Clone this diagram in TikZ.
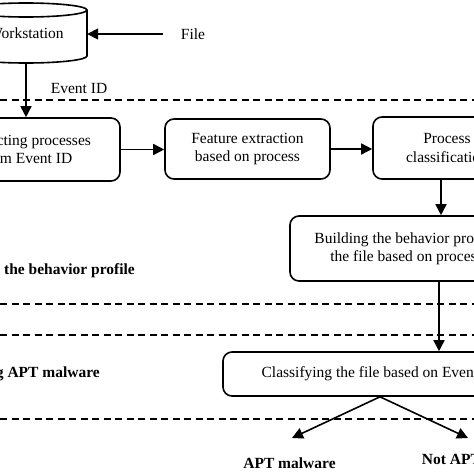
\documentclass[tikz,border=0pt]{standalone}
\usepackage{fontspec}
\setmainfont{Liberation Serif}
\usetikzlibrary{arrows.meta}
\begin{document}
\begin{tikzpicture}[x=1pt,y=-1pt,
  box/.style={draw, line width=1.6pt, rounded corners=9pt, align=center, inner sep=0pt, font=\fontsize{15.5}{18.5}\selectfont},
  arr/.style={line width=1.6pt, -{Triangle[length=11pt,width=11pt]}},
  sep/.style={line width=1.6pt, dash pattern=on 7pt off 4.5pt},
  lab/.style={font=\fontsize{15.5}{18.5}\selectfont, inner sep=0pt},
  blab/.style={font=\fontsize{15.5}{18.5}\selectfont\bfseries, inner sep=0pt}]
\useasboundingbox (0,0) rectangle (474,474);
\clip (0,0) rectangle (474,474);
\fill[white] (0,0) rectangle (474,474);
% separators
\draw[sep] (0,100) -- (474,100);
\draw[sep] (0,304) -- (474,304);
\draw[sep] (0,335) -- (474,335);
\draw[sep] (0,419) -- (474,419);
% workstation cylinder
\draw[line width=1.6pt] (-35,10) -- (-35,56) arc[start angle=180, end angle=0, x radius=61, y radius=7] -- (87,10);
\draw[line width=1.6pt] (26,10) ellipse[x radius=61, y radius=7];
\node[lab, minimum width=122pt, minimum height=60pt] (ws) at (26,33) {\raisebox{-2.5pt}{Workstation}};
\node[lab] (file) at (193,34) {File};
\node[lab] (eid) at (79,88) {Event ID};
% boxes
\node[box, minimum width=186pt, minimum height=63pt] (b1) at (27,149.5) {Extracting processes\\from Event ID};
\node[box, minimum width=165pt, minimum height=60pt] (b2) at (247.5,149) {Feature extraction\\based on process};
\node[box, minimum width=148pt, minimum height=62pt] (b3) at (447,148) {Process\\classification};
\node[box, minimum width=246pt, minimum height=65pt] (b4) at (413,248.5) {Building the behavior profile of\\the file based on processes};
\node[box, minimum width=314pt, minimum height=44pt] (b5) at (380,374) {Classifying the file based on Event ID};
% stage labels
\node[blab, anchor=east] (s1) at (135,271) {Building the behavior profile};
\node[blab, anchor=east] (s2) at (100,374) {Detecting APT malware};
% results
\coordinate (la) at (292,438);
\coordinate (ra) at (468,438);
\node[blab] (apt) at (289.5,463) {APT malware};
\node[blab] (napt) at (482,459) {Not APT malware};
% connectors
\draw[arr] ([xshift=-18pt]file.west) -- (ws.east |- file.west);
\draw[arr] (ws.south) -- (ws.south |- b1.north);
\draw[arr] (b1.east) -- (b1.east -| b2.west);
\draw[arr] (b2.east) -- (b2.east -| b3.west);
\draw[arr] ([xshift=-6pt]b3.south) -- ([xshift=-6pt]b3.south |- b4.north);
\draw[arr] ([xshift=26pt]b4.south) -- ([xshift=26pt]b4.south |- b5.north);
\draw[arr] (b5.south) -- (la);
\draw[arr] (b5.south) -- (ra);
\end{tikzpicture}
\end{document}
